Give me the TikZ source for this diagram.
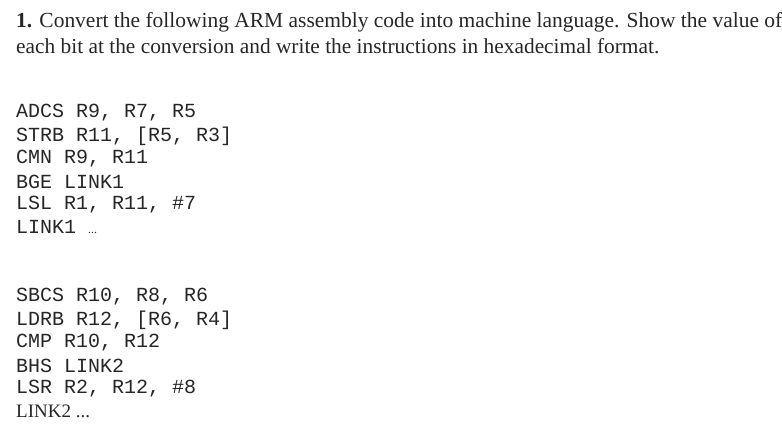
\documentclass[tikz,border=0pt]{standalone}
\usepackage{fontspec}
\setmainfont{Liberation Serif}
\setmonofont{Liberation Mono}
\begin{document}
\begin{tikzpicture}[x=1pt,y=-1pt,
  code/.style={anchor=west,inner sep=0pt,font=\ttfamily\fontsize{20}{20}\selectfont,text=black!85},
  title/.style={anchor=west,inner sep=0pt,text=black!85}]
\useasboundingbox (0,0) rectangle (782,431);
\node[title] (t1) at (16,22) {\resizebox{766pt}{!}{\fontsize{17}{17}\selectfont\textbf{1.} Convert the following ARM assembly code into machine language. Show the value of}};
\node[title] (t2) at (16,46) {\resizebox{643pt}{!}{\fontsize{17}{17}\selectfont each bit at the conversion and write the instructions in hexadecimal format.}};
\foreach \t [count=\i] in {ADCS R9{,} R7{,} R5, STRB R11{,} [R5{,} R3], CMN R9{,} R11, BGE LINK1, LSL R1{,} R11{,} \#7}
  \node[code] (a\i) at (16,{113+(\i-1)*23}) {\t};
\node[code] (a6) at (16,227) {LINK1 {\rmfamily\fontsize{12}{12}\selectfont ...}};
\foreach \t [count=\i] in {SBCS R10{,} R8{,} R6, LDRB R12{,} [R6{,} R4], CMP R10{,} R12, BHS LINK2, LSR R2{,} R12{,} \#8}
  \node[code] (b\i) at (16,{297+(\i-1)*23}) {\t};
\node[title] (b6) at (16,411) {\fontsize{19}{19}\selectfont LINK2 ...};
\end{tikzpicture}
\end{document}
